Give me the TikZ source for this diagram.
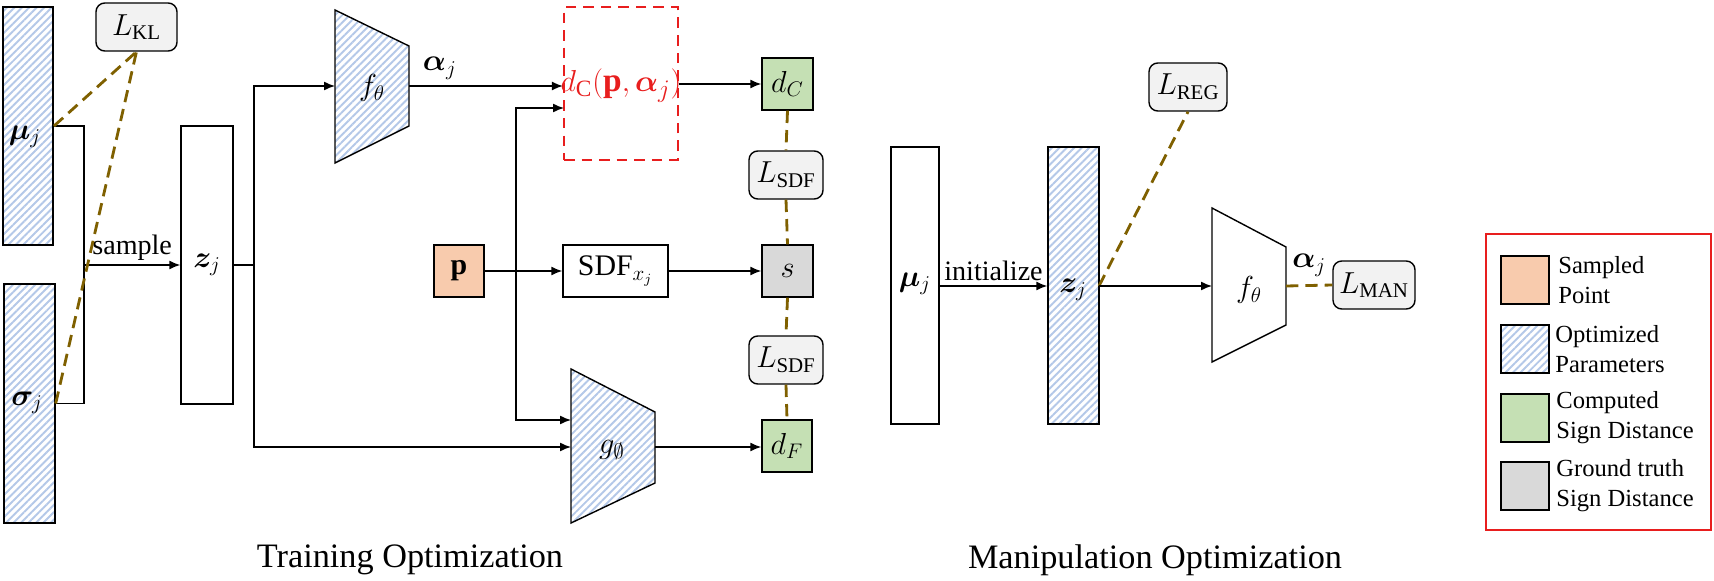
\documentclass[tikz,border=0pt]{standalone}
\usepackage{fontspec}
\setmainfont{Liberation Serif}
\usepackage{bm}
\usetikzlibrary{patterns.meta,arrows.meta}
\definecolor{hatch}{HTML}{B4C8E8}
\definecolor{porange}{HTML}{F8CBAD}
\definecolor{pgreen}{HTML}{C5E0B4}
\definecolor{pgray}{HTML}{D9D9D9}
\definecolor{lossfill}{HTML}{F2F2F2}
\definecolor{lossline}{HTML}{7F6000}
\definecolor{dred}{HTML}{E81E1E}
\tikzset{
  sz/.style 2 args={minimum width=#1*0.02cm, minimum height=#2*0.02cm, inner sep=0pt},
  blk/.style={draw=black, line width=0.8pt},
  hat/.style={blk, pattern={Lines[angle=45,distance=3pt,line width=1.1pt]}, pattern color=hatch},
  loss/.style={draw=black, line width=0.8pt, fill=lossfill, rounded corners=5pt},
  arr/.style={-{Latex[length=2.2mm,width=1.8mm]}, line width=0.8pt},
  ln/.style={line width=0.8pt},
  kl/.style={draw=lossline, line width=1.6pt, dash pattern=on 7pt off 4pt},
  lbl/.style={font=\fontsize{17}{20}\selectfont},
  leg/.style={font=\fontsize{14}{17}\selectfont, align=left, anchor=west, inner sep=0pt},
  captxt/.style={font=\fontsize{19.5}{22}\selectfont}
}
\begin{document}
\begin{tikzpicture}[x=0.02cm,y=-0.02cm, lbl]
\useasboundingbox (0,0) rectangle (1714,581);
% ---- Training ----
\node[hat, sz={50}{238}] (mu) at (28,126) {};
\node at (25,137) {$\bm{\mu}_j$};
\node[hat, sz={51}{239}] (sig) at (29.5,403.5) {};
\node at (27,403) {$\bm{\sigma}_j$};
\node[loss, sz={81}{48}] (LKL) at (136.5,27) {$L_{\mathrm{KL}}$};
\node[blk, sz={52}{278}] (z) at (207,265) {$\bm{z}_j$};
\coordinate (br) at (84,265);
\draw[ln] (mu.east) -| (br) |- (sig.east);
\draw[arr] (br) -- node[above, yshift=-1pt, font=\fontsize{16}{19}\selectfont] {sample} (z.west);
\draw[kl] (mu.east) -- (LKL.south);
\draw[kl] (sig.east) -- (LKL.south);

% f theta
\coordinate (fin) at (335,86); \coordinate (fout) at (409,86);
\draw[hat] (335,10) -- (409,46) -- (409,126) -- (335,163) -- cycle;
\node (ft) at (372,88) {$f_\theta$};
% g phi
\coordinate (gin1) at (571,420); \coordinate (gin2) at (571,447); \coordinate (gout) at (655,447);
\draw[hat] (571,369) -- (655,412) -- (655,483) -- (571,523) -- cycle;
\node (gp) at (612,450) {$g_{\emptyset}$};

\coordinate (j1) at (254,265);
\draw[ln] (z.east) -- (j1);
\draw[arr] (j1) |- (fin);
\draw[arr] (j1) |- (gin2);

\node[draw=dred, line width=1.3pt, dash pattern=on 6pt off 4pt, sz={114}{153}] (dcb) at (621,83.5) {};
\node[text=dred, font=\fontsize{19}{22}\selectfont] at (621,86) {$d_{\mathrm{C}}(\mathbf{p},\bm{\alpha}_j)$};
\draw[arr] (fout) -- node[above, pos=0.2] {$\bm{\alpha}_j$} (fout -| dcb.west);
\coordinate (dcin2) at (564,108);

\node[blk, fill=pgreen, sz={51}{52}] (dC) at (787.5,84) {$d_C$};
\draw[arr] (dcb.east |- dC.west) -- (dC.west);
\node[loss, sz={74}{48}] (LS1) at (786,175) {$L_{\mathrm{SDF}}$};
\node[blk, fill=porange, sz={50}{52}] (p) at (459,271) {$\mathbf{p}$};
\node[blk, sz={105}{52}] (sdf) at (615.5,271) {SDF$_{x_j}$};
\node[blk, fill=pgray, sz={51}{52}] (s) at (787.5,271) {$s$};
\node[loss, sz={74}{48}] (LS2) at (786,360) {$L_{\mathrm{SDF}}$};
\node[blk, fill=pgreen, sz={50}{52}] (dF) at (787,446) {$d_F$};

\coordinate (j2) at (516,271);
\draw[arr] (p.east) -- (sdf.west);
\draw[arr] (j2) |- (dcin2);
\draw[arr] (j2) |- (gin1);
\draw[arr] (sdf.east) -- (s.west);
\draw[arr] (gout) -- (gout -| dF.west);
\draw[kl] (dC.south) -- (LS1.north);
\draw[kl] (LS1.south) -- (s.north);
\draw[kl] (s.south) -- (LS2.north);
\draw[kl] (LS2.south) -- (dF.north);

% ---- Manipulation ----
\node[blk, sz={48}{277}] (mmu) at (915,285.5) {};
\node at (915,284) {$\bm{\mu}_j$};
\node[hat, sz={51}{277}] (mz) at (1073.5,285.5) {};
\node at (1073,290) {$\bm{z}_j$};
\draw[arr] (mmu.east |- 0,286) -- node[above, yshift=-1pt, font=\fontsize{16}{19}\selectfont] {initialize} (mz.west |- 0,286);
\node[loss, sz={78}{48}] (LREG) at (1188,87) {$L_{\mathrm{REG}}$};
\coordinate (mzo) at (1099,286);
\draw[kl] (mzo) -- (LREG.south);
\coordinate (mfin) at (1212,286); \coordinate (mfout) at (1286,286);
\draw[blk] (1212,208) -- (1286,247) -- (1286,325) -- (1212,362) -- cycle;
\node (mf) at (1249,290) {$f_\theta$};
\draw[arr] (mzo) -- (mfin);
\node[loss, sz={82}{48}] (LMAN) at (1374,285) {$L_{\mathrm{MAN}}$};
\draw[kl] (mfout) -- node[above, yshift=1pt] {$\bm{\alpha}_j$} (LMAN.west);

% ---- Legend ----
\node[draw=dred, line width=0.8pt, sz={225}{296}] (legbox) at (1598.5,382) {};
\node[blk, fill=porange, sz={48}{48}] (l1) at (1525,280) {};
\node[hat, sz={48}{48}] (l2) at (1525,349) {};
\node[blk, fill=pgreen, sz={48}{48}] (l3) at (1525,418) {};
\node[blk, fill=pgray, sz={48}{48}] (l4) at (1525,486) {};
\node[leg] at (1558,280) {Sampled\\Point};
\node[leg] at (1555,349) {Optimized\\Parameters};
\node[leg] at (1556,418) {Computed\\Sign Distance};
\node[leg] at (1556,486) {Ground truth\\Sign Distance};

% ---- Captions ----
\node[captxt] at (410,560) {Training Optimization};
\node[captxt] at (1155,560) {Manipulation Optimization};
\end{tikzpicture}
\end{document}
